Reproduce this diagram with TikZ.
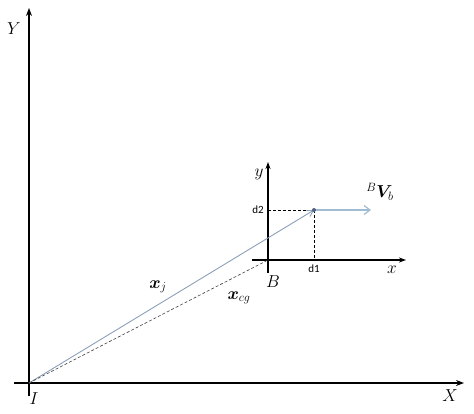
\documentclass[tikz,border=0pt]{standalone}
\usepackage{fontspec}
\usepackage{amsmath}
\usepackage{bm}
\newfontfamily\smallsans{Carlito}
\usetikzlibrary{arrows.meta}
\definecolor{vecgray}{RGB}{140,160,185}
\definecolor{velblue}{RGB}{160,188,210}
\definecolor{dotblue}{RGB}{80,100,130}
\tikzset{
  axis/.style={line width=1.3pt,-{Stealth[length=8pt,width=6pt]}},
  laxis/.style={line width=1.2pt,-{Stealth[length=7pt,width=5pt]}},
  lab/.style={font=\fontsize{18}{20}\selectfont},
  dlab/.style={font=\smallsans\fontsize{11}{12}\selectfont},
  guide/.style={dashed,line width=0.6pt,dash pattern=on 3pt off 2pt}
}
\begin{document}
\begin{tikzpicture}[x=1pt,y=-1pt]
\useasboundingbox (0,0) rectangle (474,413);
% main frame
\coordinate (I) at (29,383);
\coordinate (Ybot) at (29,396);
\coordinate (Ytop) at (29,8);
\coordinate (Xleft) at (14,383);
\coordinate (Xright) at (464,383);
\draw[axis] (Ybot) -- (Ytop);
\draw[axis] (Xleft) -- (Xright);
\node[lab] (Ylab) at (14,29) {$Y$};
\node[lab] (Xlab) at (450,396) {$X$};
\node[lab] (Ilab) at (34,399) {$I$};
% body frame
\coordinate (B) at (268,260);
\coordinate (ybot) at (268,273);
\coordinate (ytop) at (268,162);
\coordinate (xleft) at (252,260);
\coordinate (xright) at (406,260);
\draw[laxis] (ybot) -- (ytop);
\draw[laxis] (xleft) -- (xright);
\node[lab] (ylab) at (259,174) {$y$};
\node[lab] (xlab) at (392,270) {$x$};
\node[lab] (Blab) at (273,282) {$B$};
% point
\coordinate (P) at (314,210);
\coordinate (d2p) at (268,210);
\coordinate (d1p) at (314,260);
\draw[guide] (d2p) -- (P);
\draw[guide] (P) -- (d1p);
\node[dlab] (d2) at (258,210) {d2};
\node[dlab] (d1) at (314,269) {d1};
% vectors
\draw[vecgray,line width=0.9pt,-{Straight Barb[length=6pt,width=7pt]}] (I) -- (P);
\draw[guide,black!75] (I) -- (B);
\coordinate (Vend) at (371,210);
\draw[velblue,line width=1.2pt,-{Straight Barb[length=6pt,width=9pt]}] (P) -- (Vend);
\fill[dotblue] (P) circle (2pt);
\node[lab] (Vlab) at (380,192) {${}^{B}\bm{V}_{b}$};
\node[lab] (xj) at (158,287) {$\bm{x}_{j}$};
\node[lab] (xcg) at (239,298) {$\bm{x}_{cg}$};
\end{tikzpicture}
\end{document}
